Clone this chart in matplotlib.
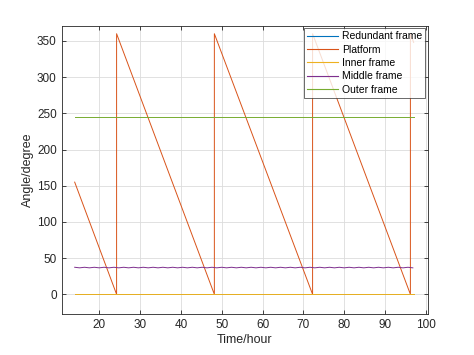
import numpy as np
import matplotlib
matplotlib.use("Agg")
import matplotlib.pyplot as plt

plt.rcParams['font.family'] = ['Liberation Sans', 'DejaVu Sans']

# ---- data ----
redundant_t = [14.0, 97.0]
redundant_v = [0.0, 0.0]

platform_t = [14.0, 24.26, 24.26, 48.2, 48.2, 72.25, 72.25, 96.2, 96.2, 97.0]
platform_v = [155.0, 0.0, 360.0, 0.0, 360.0, 0.0, 360.0, 0.0, 360.0, 348.0]

inner_t = [14.0, 97.0]
inner_v = [0.0, 0.0]

middle_t = np.arange(14.0, 97.01, 1.2)
middle_v = [37.4, 36.6, 37.4, 36.6, 37.4, 36.6, 37.4, 36.6, 37.4, 36.6,
            37.4, 36.6, 37.4, 36.6, 37.4, 36.6, 37.4, 36.6, 37.4, 36.6,
            37.4, 36.6, 37.4, 36.6, 37.4, 36.6, 37.4, 36.6, 37.4, 36.6,
            37.4, 36.6, 37.4, 36.6, 37.4, 36.6, 37.4, 36.6, 37.4, 36.6,
            37.4, 36.6, 37.4, 36.6, 37.4, 36.6, 37.4, 36.6, 37.4, 36.6,
            37.4, 36.6, 37.4, 36.6, 37.4, 36.6, 37.4, 36.6, 37.4, 36.6,
            37.4, 36.6, 37.4, 36.6, 37.4, 36.6, 37.4, 36.6, 37.4, 36.6]
middle_v = middle_v[:len(middle_t)]

outer_t = [14.0, 97.0]
outer_v = [245.0, 245.0]

labels = ["Redundant frame", "Platform", "Inner frame", "Middle frame", "Outer frame"]
colors = ["#0072BD", "#D95319", "#EDB120", "#7E2F8E", "#77AC30"]
xticks = [20, 30, 40, 50, 60, 70, 80, 90, 100]
yticks = [0, 50, 100, 150, 200, 250, 300, 350]

# ---- figure ----
fig = plt.figure(figsize=(4.74, 3.55), dpi=100)
ax = fig.add_axes([0.130, 0.1146, 0.772, 0.8122])

lw = 0.7
series = [(redundant_t, redundant_v), (platform_t, platform_v), (inner_t, inner_v),
          (middle_t, middle_v), (outer_t, outer_v)]
for (tt, vv), c, lab in zip(series, colors, labels):
    ax.plot(tt, vv, color=c, lw=lw, label=lab)

ax.set_xlim(10.8, 100.4)
ax.set_ylim(-27.6, 370.7)
ax.set_xticks(xticks)
ax.set_yticks(yticks)
ax.grid(True, color="#dcdcdc", lw=0.6)
ax.set_axisbelow(True)
ax.tick_params(direction="in", length=3, width=0.6, color="#262626",
               labelsize=8.5, top=True, right=True, labelcolor="#262626")
for s in ax.spines.values():
    s.set_color("#262626")
    s.set_linewidth(0.6)

ax.set_xlabel("Time/hour", fontsize=9, color="#262626", labelpad=2)
ax.set_ylabel("Angle/degree", fontsize=9, color="#262626", labelpad=2)

leg = ax.legend(loc="upper right", fontsize=7.5, frameon=True, fancybox=False,
                borderaxespad=0.2, handlelength=3.0, handletextpad=0.4,
                labelspacing=0.32, borderpad=0.3)
leg.get_frame().set_edgecolor("#262626")
leg.get_frame().set_linewidth(0.6)
for line, c in zip(leg.get_lines(), colors):
    line.set_color(c)
    line.set_linewidth(0.8)

fig.savefig("out.png", dpi=100)
